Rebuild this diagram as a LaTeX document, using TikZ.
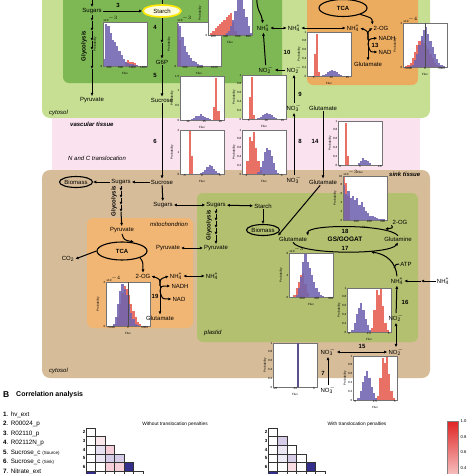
\documentclass[tikz,border=0pt]{standalone}
\usepackage{fontspec}
\setmainfont{Liberation Sans}
\usetikzlibrary{arrows.meta,shapes.geometric}
\definecolor{cytgreen}{RGB}{198,223,146}
\definecolor{chlgreen}{RGB}{126,184,84}
\definecolor{mitorange}{RGB}{236,172,96}
\definecolor{vascpink}{RGB}{250,226,238}
\definecolor{sinktan}{RGB}{214,188,152}
\definecolor{plastolive}{RGB}{178,192,112}
\definecolor{mitlight}{RGB}{242,182,116}
\definecolor{histblue}{RGB}{112,100,176}
\definecolor{histred}{RGB}{232,112,100}
\definecolor{cbred}{RGB}{224,36,36}
\definecolor{cellblue}{RGB}{52,46,140}
\definecolor{celllav}{RGB}{214,204,232}
\definecolor{cellpink}{RGB}{246,206,218}
\newcommand\subsup[2]{\rlap{\textsubscript{#1}}\textsuperscript{#2}}
% #1 left, #2 top, #3 blue bins, #4 red bins, #5 x ticks, #6 y ticks
\newcommand\fluxhist[6]{%
  \begin{scope}[shift={(#1,#2)}]
    \fill[white] (0,0) rectangle (44,44);
    \foreach \h [count=\i from 0] in {#4}
      \fill[histred] (\i*2.2,44) rectangle ++(2.2,-\h*44);
    \foreach \h [count=\i from 0] in {#3}
      \fill[histblue,opacity=.88] (\i*2.2,44) rectangle ++(2.2,-\h*44);
    \draw[black!55,line width=.5pt] (0,0) rectangle (44,44);
    \foreach \p/\t in {#5} \node[ticklab,anchor=north] at (\p*44,44) {\t};
    \foreach \p/\t in {#6} \node[ticklab,anchor=east] at (0,44-\p*44) {\t};
    \node[ticklab,rotate=90] at (-8,22) {Probability};
    \node[ticklab] at (22,51.5) {Flux};
  \end{scope}}

\begin{document}
\begin{tikzpicture}[x=1pt,y=-1pt,
  met/.style={font=\fontsize{6}{7}\selectfont, inner sep=1pt},
  num/.style={font=\fontsize{6}{7}\selectfont\bfseries, inner sep=0pt},
  comp/.style={font=\fontsize{6}{7}\selectfont\itshape, anchor=west, inner sep=0pt},
  flux/.style={line width=1pt, -{Latex[length=3.2pt,width=3pt]}},
  exch/.style={line width=1pt, {Latex[length=3.2pt,width=3pt]}-{Latex[length=3.2pt,width=3pt]}},
  poolring/.style={ellipse, draw, line width=1.1pt, inner sep=0pt, font=\fontsize{6}{7}\selectfont},
  ticklab/.style={font=\fontsize{3}{3.5}\selectfont, inner sep=.4pt},
  listlab/.style={font=\fontsize{6.3}{7}\selectfont, anchor=west, inner sep=0pt}]
  \useasboundingbox (0,0) rectangle (474,474);
  \clip (0,0) rectangle (474,474);
  %%%%% SOURCE TISSUE %%%%%
  \fill[cytgreen,rounded corners=8pt] (42,-20) rectangle (430,118);
  \fill[chlgreen,rounded corners=6pt] (63,-20) rectangle (282,83);
  \fill[mitorange,rounded corners=6pt] (307,-20) rectangle (418,85);
  \fill[vascpink] (52,118) rectangle (420,171);
  %%%%% SINK TISSUE %%%%%
  \fill[sinktan,rounded corners=8pt] (42,170) rectangle (430,378);
  \fill[mitlight,rounded corners=6pt] (87,218) rectangle (193,328);
  \fill[plastolive,rounded corners=6pt] (197,193) rectangle (418,342);

  \node[comp] at (49,113) {cytosol};
  \node[comp,font=\fontsize{6}{7}\selectfont\bfseries\itshape] at (70,124) {vascular tissue};
  \node[comp] at (68,158) {N and C translocation};
  \node[comp,font=\fontsize{6}{7}\selectfont\bfseries\itshape] at (389,174) {sink tissue};
  \node[comp] at (150,224) {mitochondrion};
  \node[comp] at (204,333) {plastid};
  \node[comp] at (49,371) {cytosol};

  %%%%% histograms %%%%%
  \fluxhist{103}{22}{0.15,0.95,0.9,0.75,0.6,0.55,0.45,0.35,0.25,0.15,0.1,0.07,0.05,0.04,0.03,0.02,0.01}{0,0,0,0,0,0,0,0,0,0,0.08,0.13,0.1,0.08,0.06,0.03,0.01}{0.14/200,0.4/600,0.67/1000,0.92/1400}{0/0}
  \fluxhist{177}{22}{0.95,0.9,0.65,0.45,0.32,0.25,0.18,0.12,0.08,0.05,0.03,0.02,0.01}{0.88,0.6}{0.18/500,0.52/1000,0.85/1500}{0/0}
  \fluxhist{208}{-9}{0,0,0,0,0,0,0,0,0.05,0.1,0.2,0.35,0.55,0.8,0.95,0.8,0.6,0.4,0.2,0.05}{0,0.05,0.1,0.15,0.2,0.25,0.3,0.35,0.4,0.45,0.5,0.3,0.1}{0.12/200,0.4/400,0.68/600,0.92/800}{0/0}
  \fluxhist{180}{76}{0,0,0,0,0,0.02,0.05,0.08,0.1,0.13,0.1,0.07,0.04,0.02}{0,0,0,0,0,0,0,0,0,0,0,0,0,0,0,0.3,0.95,0.2}{0.18/10,0.55/15,0.92/20}{0/0,0.33/0.5,0.66/1,0.98/1.5}
  \fluxhist{242}{75}{0,0,0,0,0,0,0,0.02,0.05,0.08,0.12,0.14,0.12,0.08,0.05,0.02}{0,0,0,0.5,0.95,0.1}{0.15/5,0.55/10,0.92/15}{0/0,0.2/0.2,0.4/0.4,0.6/0.6,0.8/0.8,1/1}
  \fluxhist{307}{32}{0,0,0,0,0,0,0,0.02,0.05,0.08,0.12,0.14,0.12,0.08,0.05,0.02}{0,0,0,0.5,0.95,0.1}{0.15/5,0.55/10,0.92/15}{0/0,0.2/0.2,0.4/0.4,0.6/0.6,0.8/0.8,1/1}
  \fluxhist{403}{23}{0,0,0,0.02,0.05,0.15,0.3,0.5,0.7,0.85,0.9,0.75,0.6,0.45,0.3,0.18,0.1,0.05,0.02}{0,0.02,0.05,0.1,0.2,0.35,0.5,0.6,0.62,0.55,0.5,0.4,0.3,0.2,0.1,0.05,0.02}{0.12/-5000,0.5/0,0.88/5000}{0/0,1/2}
  \fluxhist{180}{130}{0,0,0,0,0,0,0,0,0,0.02,0.05,0.1,0.15,0.2,0.18,0.12,0.07,0.03}{0,0,0,0,1,0.4}{0.1/-5,0.5/0,0.9/5}{0/0,0.5/1,1/2}
  \fluxhist{242}{130}{0,0,0,0,0,0,0,0.05,0.15,0.3,0.5,0.6,0.55,0.4,0.25,0.1,0.03}{0,0,0.3,0.85,0.75,0.95,0.6,0.3,0.1}{0.1/2,0.5/4,0.9/6}{0/0,0.2/0.2,0.4/0.4,0.6/0.6,0.8/0.8,1/1}
  \fluxhist{338}{121}{0,0,0,0,0,0,0,0,0,0.05,0.1,0.15,0.12,0.08,0.04}{0,0,0,0.95,0.2}{0.05/0,0.5/5,0.95/10}{0/0,0.2/0.2,0.4/0.4,0.6/0.6,0.8/0.8,1/1}
  \fluxhist{343}{176}{0.8,0.6,0.65,0.5,0.55,0.45,0.5,0.35,0.4,0.3,0.2,0.15,0.1,0.08,0.06,0.04,0.03,0.03,0.02,0.01}{1,0.85,0.55}{0.3/100,0.6/200,0.9/300}{0/0,0.2/2,0.4/4,0.6/6,0.8/8,1/10}
  \fluxhist{289}{253}{0,0,0,0.05,0.2,0.45,0.8,1,0.8,0.65,0.5,0.35,0.2,0.12,0.05,0.02}{0,0,0.05,0.2,0.35,0.5,0.55,0.3,0.1}{0.3/200,0.63/400,0.95/600}{0/0,0.5/4,1/8}
  \fluxhist{347}{288}{0,0,0.05,0.2,0.4,0.55,0.65,0.5,0.3,0.15,0.05}{0,0,0,0,0,0,0,0,0,0,0,0.1,0.5,0.95,0.85,1,0.6,0.2,0.05}{0.05/0,0.5/2.5,0.95/5}{0/0,0.2/0.2,0.4/0.4,0.6/0.6,0.8/0.8,1/1}
  \fluxhist{353}{356}{0,0,0.05,0.2,0.4,0.55,0.65,0.5,0.3,0.15,0.05}{0,0,0,0,0,0,0,0,0,0,0,0.1,0.5,0.95,0.85,1,0.6,0.2,0.05}{0.05/0,0.5/2.5,0.95/5}{0/0,0.2/0.2,0.4/0.4,0.6/0.6,0.8/0.8,1/1}
  \fluxhist{273}{343}{0}{0}{0.05/-20,0.5/-10,0.93/0}{0/0,0.2/0.2,0.4/0.4,0.6/0.6,0.8/0.8,1/1}
  \draw[histblue!80!black,line width=1.2pt] (298,343) -- (298,387);
  \fluxhist{106}{282}{0,0,0,0.05,0.2,0.5,0.8,0.95,0.85,0.7,0.5,0.3,0.15,0.05,0.02}{0,0,0,0,0.05,0.2,0.5,0.75,0.9,0.85,0.7,0.5,0.35,0.2,0.1,0.05}{0.12/-5000,0.5/0,0.88/5000}{0/0,1/2}
  \draw[black!70,line width=.6pt] (128,282) -- (128,326);
  \draw[black!70,line width=.6pt] (425,23) -- (425,67);
  \node[ticklab,anchor=south west] at (103,22) {x10$^{-3}$};
  \node[ticklab,anchor=south west] at (177,22) {x10$^{-3}$};
  \node[ticklab,anchor=south west] at (403,23) {x10$^{-4}$};
  \node[ticklab,anchor=south west] at (343,176) {x10$^{-3}$};
  \node[ticklab,anchor=south west] at (289,253) {x10$^{-3}$};
  \node[ticklab,anchor=south west] at (106,282) {x10$^{-4}$};

  %%%%% source metabolites %%%%%
  \node[met] (sugA) at (92,11) {Sugars};
  \node[poolring,draw=yellow!90!orange,fill=yellow!15,line width=1.6pt,minimum width=38pt,minimum height=12pt] (starchA) at (162,11) {Starch};
  \node[met] (gsixp) at (162,62) {G6P};
  \node[met] (sucA) at (162,100) {Sucrose};
  \node[met] (pyrA) at (92,100) {Pyruvate};
  \node[met,font=\fontsize{6}{7}\selectfont\bfseries,rotate=90] at (84,46) {Glycolysis};
  \node[met] (nhC) at (263,28) {NH\subsup{4}{+}};
  \node[met] (nhCy) at (294,28) {NH\subsup{4}{+}};
  \node[met] (nhM) at (353,28) {NH\subsup{4}{+}};
  \node[met] (noC) at (266,70) {NO\subsup{2}{$-$}};
  \node[met] (noCy) at (294,70) {NO\subsup{2}{$-$}};
  \node[met] (nitCy) at (294,108) {NO\subsup{3}{$-$}};
  \node[met] (gluCy) at (323,108) {Glutamate};
  \node[poolring,minimum width=48pt,minimum height=17pt,font=\fontsize{6}{7}\selectfont\bfseries] (tcaA) at (343,8) {TCA};
  \node[met] (ogM) at (381,28) {2-OG};
  \node[met] (nadhM) at (387,38) {NADH};
  \node[met] (nadM) at (385,52) {NAD};
  \node[met] (gluM) at (368,64) {Glutamate};
  \coordinate (ymA) at (368,40);

  \coordinate (inSug) at (92,-2);
  \coordinate (inStarch) at (162,-2);
  \coordinate (inNh) at (257,-2);
  \draw[flux] (inSug) -- (sugA);
  \draw[line width=1pt] (inStarch) -- (starchA);
  \draw[flux] (sugA) -- (starchA);
  \draw[flux] (starchA) -- (162,43);
  \draw[flux] (162,43) -- (gsixp);
  \draw[flux] (gsixp) -- (sucA);
  \draw[flux] (sugA) -- (92,21);
  \foreach \a/\b in {21/31,31/41,41/50,50/69}
    \draw[flux] (92,\a) -- (92,\b);
  \draw[flux] (92,69) -- (pyrA);
  \draw[flux] (inNh) .. controls (256,10) and (262,14) .. (nhC);
  \draw[exch] (nhC) -- (nhCy);
  \draw[exch] (nhCy) -- (nhM);
  \draw[flux] (noC) -- (nhC);
  \draw[flux] (noCy) -- (noC);
  \draw[flux] (nitCy) -- (noCy);
  \draw[flux] (tcaA.south east) .. controls (372,18) .. (ogM.north west);
  \draw[flux] (ymA) .. controls (368,31) .. (nhM.east);
  \draw[flux] (ymA) .. controls (368,31) .. (ogM.west);
  \draw[flux] (ymA) -- (gluM);
  \draw[flux] (368,44) .. controls (369,39) .. (nadhM.west);
  \draw[flux] (368,44) .. controls (370,52) .. (nadM.west);
  \node[num] at (118,5) {3};
  \node[num] at (155,27) {4};
  \node[num] at (155,75) {5};
  \node[num] at (287,52) {10};
  \node[num] at (300,94) {9};
  \node[num] at (375,45) {13};

  %%%%% translocation %%%%%
  \node[met] (sucS) at (162,182) {Sucrose};
  \node[met] (nitS) at (294,180) {NO\subsup{3}{$-$}};
  \node[met] (gluS) at (323,182) {Glutamate};
  \draw[flux] (sucA) -- (sucS);
  \draw[flux] (nitS) -- (nitCy);
  \draw[flux] (gluCy) -- (gluS);
  \node[num] at (155,141) {6};
  \node[num] at (300,141) {8};
  \node[num] at (315,141) {14};

  %%%%% sink metabolites %%%%%
  \node[poolring,minimum width=33pt,minimum height=11pt] (bioC) at (76,182) {Biomass};
  \node[met] (sugS) at (121,182) {Sugars};
  \node[met] (sugS2) at (163,205) {Sugars};
  \node[met] (sugP) at (216,205) {Sugars};
  \node[met] (starchP) at (263,206) {Starch};
  \node[poolring,minimum width=33pt,minimum height=11pt] (bioP) at (263,230) {Biomass};
  \node[met] (pyrS) at (122,230) {Pyruvate};
  \node[met] (pyrM) at (168,248) {Pyruvate};
  \node[met] (pyrP) at (216,248) {Pyruvate};
  \node[met,font=\fontsize{6}{7}\selectfont\bfseries,rotate=90] at (114,201) {Glycolysis};
  \node[met,font=\fontsize{6}{7}\selectfont\bfseries,rotate=90] at (209,225) {Glycolysis};
  \node[poolring,minimum width=50pt,minimum height=18pt,font=\fontsize{6}{7}\selectfont\bfseries] (tcaS) at (122,251) {TCA};
  \node[met] (co2S) at (68,259) {CO\textsubscript{2}};
  \node[met] (ogS) at (143,276) {2-OG};
  \node[met] (nhS) at (176,276) {NH\subsup{4}{+}};
  \node[met] (nhP) at (212,276) {NH\subsup{4}{+}};
  \node[met] (nadhS) at (180,286) {NADH};
  \node[met] (nadS) at (179,299) {NAD};
  \node[met] (gluS2) at (160,318) {Glutamate};
  \coordinate (ymS) at (160,286);

  \draw[flux] (sucS) -- (sugS);
  \draw[flux] (sugS) -- (bioC);
  \draw[flux] (sucS) -- (sugS2);
  \draw[exch] (sugS2) -- (sugP);
  \draw[exch] (sugP) -- (starchP);
  \draw[flux] (starchP) -- (bioP);
  \draw[exch] (pyrM) -- (pyrP);
  \draw[flux] (sugS) -- (121,191);
  \foreach \a/\b in {191/198,198/205,205/212}
    \draw[flux] (121,\a) -- (121,\b);
  \draw[flux] (121,212) -- (pyrS);
  \draw[flux] (sugP) -- (216,214);
  \foreach \a/\b in {214/221,221/228,228/235}
    \draw[flux] (216,\a) -- (216,\b);
  \draw[flux] (216,235) -- (pyrP);
  \draw[flux] (pyrS.south) .. controls (124,240) .. (134,242);
  \draw[flux] (tcaS.west) .. controls (88,254) .. (co2S.east);
  \draw[flux] (tcaS.south east) .. controls (143,262) .. (ogS.north);
  \draw[exch] (nhS) -- (nhP);
  \draw[flux] (ymS) .. controls (160,279) .. (ogS.east);
  \draw[flux] (ymS) .. controls (160,279) .. (nhS.west);
  \draw[flux] (ymS) -- (gluS2);
  \draw[flux] (160,291) .. controls (161,286) .. (nadhS.west);
  \draw[flux] (160,291) .. controls (162,299) .. (nadS.west);
  \node[num] at (155,296) {19};

  %%%%% GS/GOGAT %%%%%
  \node[met] (gluP) at (293,239) {Glutamate};
  \node[met] (glnP) at (398,239) {Glutamine};
  \node[met] (ogP) at (400,222) {2-OG};
  \node[met] (atpP) at (406,264) {ATP};
  \node[met] (nhP2) at (397,281) {NH\subsup{4}{+}};
  \node[met] (nhExt) at (443,281) {NH\subsup{4}{+}};
  \node[met] (noP) at (396,318) {NO\subsup{2}{$-$}};
  \node[met] (noS) at (396,352) {NO\subsup{2}{$-$}};
  \node[met] (nitS2) at (328,352) {NO\subsup{3}{$-$}};
  \node[met] (nitExt) at (328,390) {NO\subsup{3}{$-$}};
  \coordinate (nhMid) at (421,281);

  \draw[flux] (gluS) -- (gluP.north west);
  \draw[flux] (glnP.north) .. controls (388,224) and (306,224) .. (gluP.north east);
  \draw[flux] (gluP.south) .. controls (300,255) and (390,255) .. (glnP.south);
  \draw[flux] (ogP.south west) .. controls (393,228) .. (385,229);
  \draw[flux] (nhP2.north) .. controls (396,262) and (386,254) .. (371,252);
  \draw[line width=1pt] (atpP.west) .. controls (396,264) .. (394,268);
  \draw[flux] (nhExt) -- (nhMid);
  \draw[flux] (nhMid) -- (nhP2);
  \draw[flux] (noP) -- (nhP2);
  \draw[exch] (noP) -- (noS);
  \draw[exch] (nitS2) -- (noS);
  \draw[flux] (nitExt) -- (nitS2);
  \node[num] at (345,231) {18};
  \node[met,font=\fontsize{6.5}{7}\selectfont\bfseries] at (345,239.5) {GS/GOGAT};
  \node[num] at (345,248) {17};
  \node[num] at (405,302) {16};
  \node[num] at (362,346) {15};
  \node[num] at (323,373) {7};

  %%%%% B: correlation analysis %%%%%
  \node[listlab,font=\fontsize{8.5}{9}\selectfont\bfseries] at (3,395) {B};
  \node[listlab,font=\fontsize{7}{8}\selectfont\bfseries] at (16,395) {Correlation analysis};
  \foreach \t [count=\k] in {hv\_ext,R00024\_p,R02110\_p,R02112N\_p,Sucrose\_c {\fontsize{4.5}{5}\selectfont(Source)},Sucrose\_c {\fontsize{4.5}{5}\selectfont(Sink)},Nitrate\_ext}
    \node[listlab] at (3,405.6+\k*9.4) {\textbf{\k}. \t};
  \node[font=\fontsize{4.8}{5}\selectfont] at (175,424) {Without translocation penalties};
  \node[font=\fontsize{4.8}{5}\selectfont] at (357,424) {With translocation penalties};
  % left matrix
  \foreach \r/\c/\col in {3/2/cellpink!50,4/2/celllav!60,4/3/cellpink,5/2/celllav!50,5/3/celllav,5/4/celllav,6/3/cellpink,6/4/cellpink,6/5/cellblue,7/1/cellblue}
    \fill[\col] (86+\c*9.5-9.5,428+\r*8.6-17.2) rectangle ++(9.5,8.6);
  % right matrix
  \foreach \r/\c/\col in {3/2/celllav,4/2/celllav!50,5/2/celllav!40,5/3/celllav,6/3/cellpink!70,6/5/cellblue,7/1/cellblue}
    \fill[\col] (268+\c*9.5-9.5,428+\r*8.6-17.2) rectangle ++(9.5,8.6);
  \foreach \ox in {86,268}
    \foreach \r in {2,...,7} {
      \pgfmathtruncatemacro\ncell{\r-1}
      \foreach \c in {1,...,\ncell}
        \draw[black!80,line width=.5pt] (\ox+\c*9.5-9.5,428+\r*8.6-17.2) rectangle ++(9.5,8.6);
    }
  \foreach \ox in {86,268}
    \foreach \r in {2,...,6}
      \node[font=\fontsize{4.5}{5}\selectfont\bfseries,anchor=east,inner sep=.5pt] at (\ox,428+\r*8.6-12.9) {\r};
  % colour bar
  \shade[top color=cbred,bottom color=cbred!30] (447,421) rectangle (458,474);
  \draw[black!50,line width=.3pt] (447,421) rectangle (458,474);
  \foreach \v/\yy in {1.0/421,0.8/437,0.6/452,0.4/468}
    \node[font=\fontsize{4.2}{5}\selectfont,anchor=west,inner sep=.5pt] at (460,\yy) {\v};
\end{tikzpicture}
\end{document}
